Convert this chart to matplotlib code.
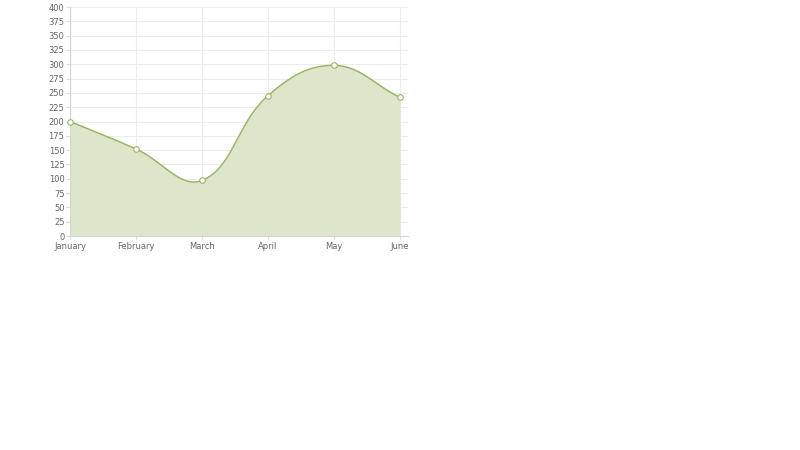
import numpy as np
import matplotlib.pyplot as plt

months = ["January", "February", "March", "April", "May", "June"]
values = [200, 152, 97, 245, 298, 242]
yticks = list(range(0, 401, 25))

line_col = "#9db468"
fill_col = "#dde6cb"
grid_col = "#ececec"

fig = plt.figure(figsize=(8, 4.5), dpi=100)
ax = fig.add_axes([70/800, 1-236/450, 338/800, 229/450])

x = np.arange(len(months))
ax.set_xlim(0, len(months) - 1 + 8/66)
ax.set_ylim(0, 400)
fig.canvas.draw()

# spline curve like chart.js (tension 0.4), computed in pixel space
pts = ax.transData.transform(np.column_stack([x, values]))
t = 0.4
cps = []
for i in range(len(pts)):
    prev = pts[max(i-1, 0)]
    cur = pts[i]
    nxt = pts[min(i+1, len(pts)-1)]
    d01 = np.hypot(*(cur - prev))
    d12 = np.hypot(*(nxt - cur))
    s = d01 + d12
    fa = t*d01/s if s else 0
    fb = t*d12/s if s else 0
    cps.append((cur - fa*(nxt - prev), cur + fb*(nxt - prev)))

curve = []
u = np.linspace(0, 1, 40)[:, None]
for i in range(len(pts)-1):
    p0, p3 = pts[i], pts[i+1]
    p1, p2 = cps[i][1], cps[i+1][0]
    seg = (1-u)**3*p0 + 3*(1-u)**2*u*p1 + 3*(1-u)*u**2*p2 + u**3*p3
    curve.append(seg)
curve = ax.transData.inverted().transform(np.vstack(curve))

ax.fill_between(curve[:, 0], curve[:, 1], 0, color=fill_col, lw=0, zorder=1)
ax.plot(curve[:, 0], curve[:, 1], color=line_col, lw=1.1, zorder=2)
ax.scatter(x, values, s=16, facecolor="white", edgecolor=line_col, lw=0.8, zorder=3, clip_on=False)

ax.set_xticks(x)
ax.set_xticklabels(months)
ax.set_yticks(yticks)
ax.grid(True, color=grid_col, lw=0.8, zorder=0)
ax.set_axisbelow(True)
ax.tick_params(colors="#dddddd", labelcolor="#666666", labelsize=6, length=3, width=0.8, pad=1)
ax.tick_params(axis="x", length=2, pad=2)
for side in ["top", "right"]:
    ax.spines[side].set_visible(False)
for side in ["left", "bottom"]:
    ax.spines[side].set_color("#d5d5d5")
    ax.spines[side].set_linewidth(0.8)

fig.savefig("out.png", dpi=100)
